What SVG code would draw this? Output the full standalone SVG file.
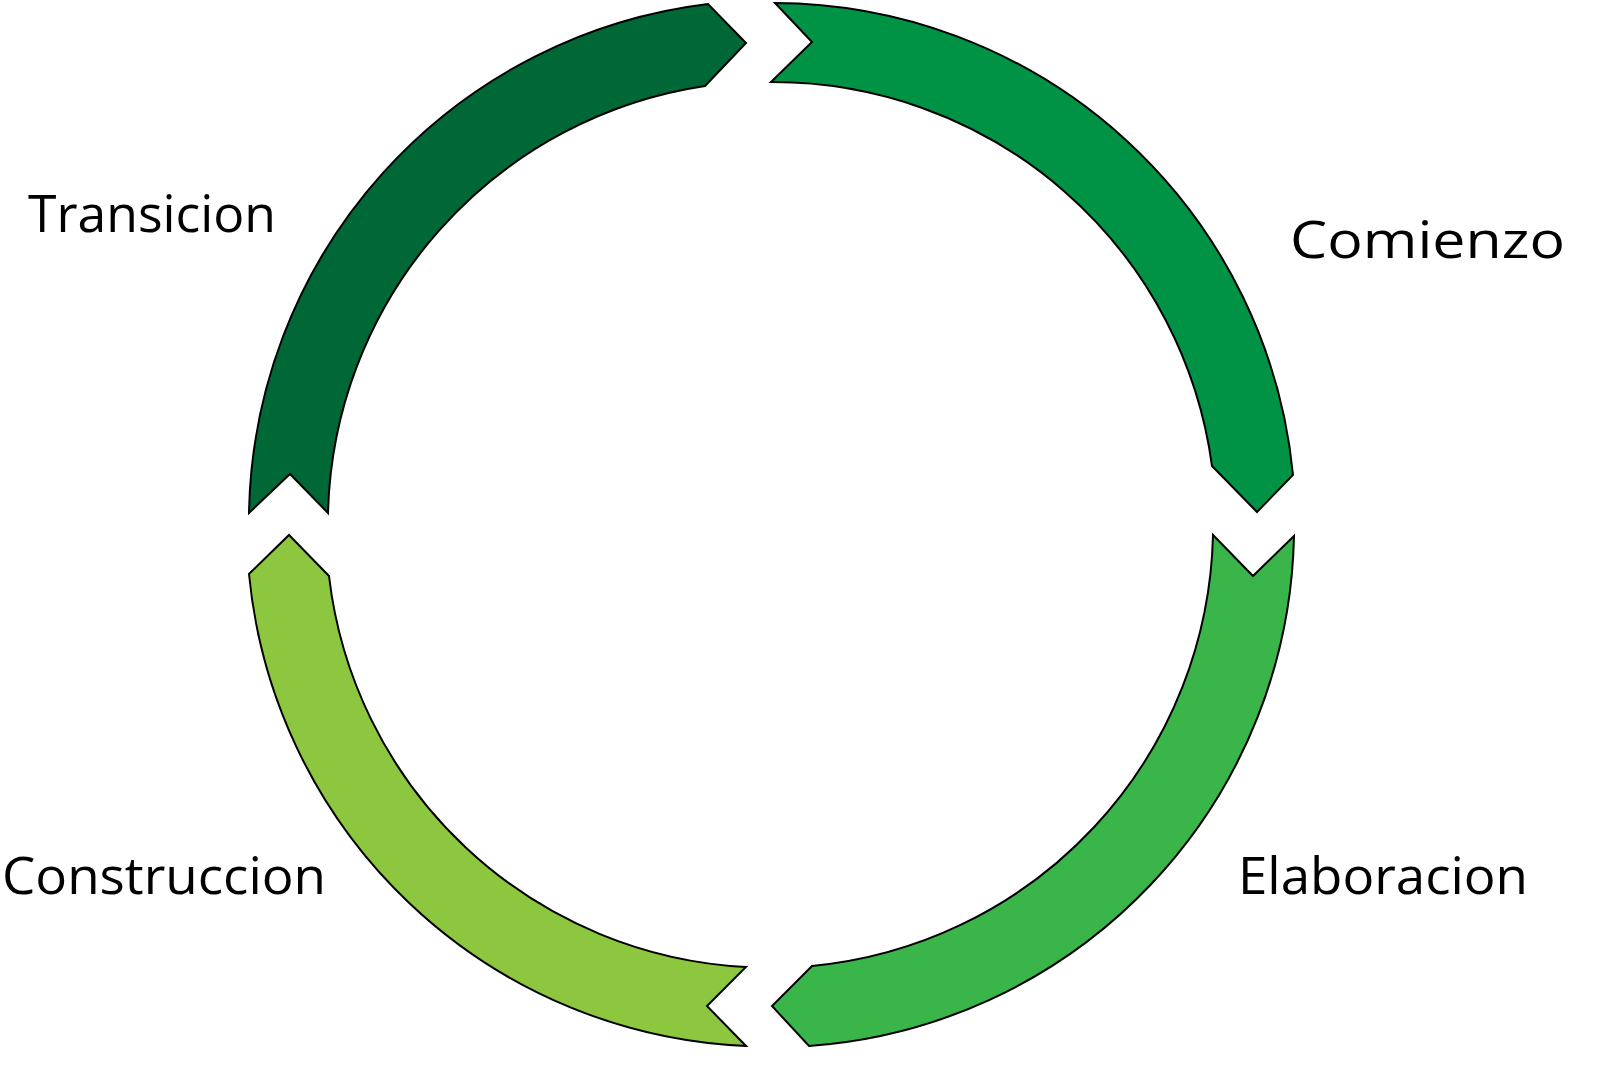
<svg xmlns="http://www.w3.org/2000/svg" width="1600" height="1069" viewBox="0 0 1600 1069">
<style>
.a{stroke:#000;stroke-width:2;stroke-linejoin:miter}
.t{font-family:"Open Sans","Liberation Sans",sans-serif;font-size:52px;fill:#000}
</style>
<rect width="1600" height="1069" fill="#fff"/>
<g id="comienzo"><path class="a" fill="#009245" d="M775,3 A522,522 0 0 1 1293,475 L1257,512 L1212,466 A443,443 0 0 0 771,82 L812,42 Z"/>
<text class="t" x="1290" y="258" textLength="275" lengthAdjust="spacingAndGlyphs">Comienzo</text></g>
<g id="elaboracion"><path class="a" fill="#39b54a" d="M1294,536 A522,522 0 0 1 809,1046 L772,1006 L812,966 A443,443 0 0 0 1213,535 L1253,576 Z"/>
<text class="t" x="1238" y="894" textLength="290" lengthAdjust="spacingAndGlyphs">Elaboracion</text></g>
<g id="construccion"><path class="a" fill="#8dc63f" d="M746,1046 A522,522 0 0 1 249,574 L289,535 L329,576 A443,443 0 0 0 746,967 L707,1006 Z"/>
<text class="t" x="2" y="894" textLength="324" lengthAdjust="spacingAndGlyphs">Construccion</text></g>
<g id="transicion"><path class="a" fill="#006837" d="M249,513 A522,522 0 0 1 708,4 L746,43 L705,86 A443,443 0 0 0 328,513 L290,474 Z"/>
<text class="t" x="28" y="232" textLength="248" lengthAdjust="spacingAndGlyphs">Transicion</text></g>
<g id="connectors"></g>
</svg>
